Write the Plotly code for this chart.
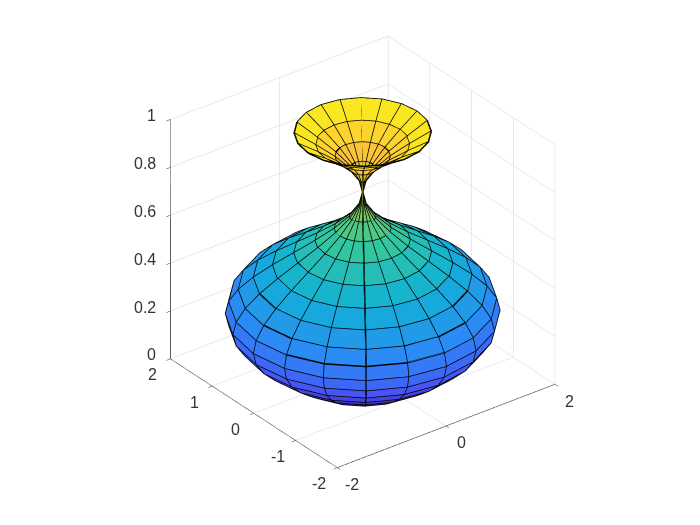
import numpy as np
import plotly.graph_objects as go

# profile of the surface, one radius for each ring
heights = [0.0, 0.05, 0.1, 0.15, 0.2, 0.25, 0.3, 0.35, 0.4, 0.45, 0.5,
           0.55, 0.6, 0.65, 0.7, 0.75, 0.8, 0.85, 0.9, 0.95, 1.0]
radii = [1.0, 1.31, 1.59, 1.81, 1.95, 2.0, 1.95, 1.81, 1.59, 1.31, 1.0,
         0.69, 0.41, 0.19, 0.05, 0.0, 0.05, 0.19, 0.41, 0.69, 1.0]
angles_deg = [0, 18, 36, 54, 72, 90, 108, 126, 144, 162, 180,
              198, 216, 234, 252, 270, 288, 306, 324, 342, 360]

x_ticks = [-2, 0, 2]
y_ticks = [-2, -1, 0, 1, 2]
z_ticks = [0, 0.2, 0.4, 0.6, 0.8, 1]

PARULA = np.array([
    [0.2422, 0.1504, 0.6603],
    [0.2810, 0.3228, 0.9579],
    [0.1786, 0.5289, 0.9682],
    [0.0689, 0.6948, 0.8394],
    [0.2161, 0.7843, 0.5923],
    [0.6720, 0.7793, 0.2227],
    [0.9970, 0.7659, 0.2199],
    [0.9769, 0.9839, 0.0805],
])
PARULA_POS = np.linspace(0, 1, len(PARULA))


def parula(v):
    rgb = [np.interp(v, PARULA_POS, PARULA[:, i]) for i in range(3)]
    return "rgb({:.0f},{:.0f},{:.0f})".format(*[c * 255 for c in rgb])


theta = np.radians(angles_deg)
r = np.array(radii)
z = np.array(heights)
X = np.outer(r, np.cos(theta))
Y = np.outer(r, np.sin(theta))
Z = np.outer(z, np.ones_like(theta))

nrow, ncol = X.shape
idx = np.arange(nrow * ncol).reshape(nrow, ncol)
i, j, k, colors = [], [], [], []
for a in range(nrow - 1):
    for b in range(ncol - 1):
        c = parula(heights[a])
        i += [idx[a, b], idx[a, b]]
        j += [idx[a, b + 1], idx[a + 1, b + 1]]
        k += [idx[a + 1, b + 1], idx[a + 1, b]]
        colors += [c, c]

fig = go.Figure()
fig.add_trace(
    go.Mesh3d(
        x=X.ravel(),
        y=Y.ravel(),
        z=Z.ravel(),
        i=i,
        j=j,
        k=k,
        facecolor=colors,
        flatshading=True,
        lighting={"ambient": 1, "diffuse": 0, "specular": 0, "roughness": 1, "fresnel": 0},
        hoverinfo="skip",
    )
)

# edge lines, rings then meridians
ex, ey, ez = [], [], []
for a in range(nrow):
    ex += list(X[a]) + [None]
    ey += list(Y[a]) + [None]
    ez += list(Z[a]) + [None]
for b in range(ncol - 1):
    ex += list(X[:, b]) + [None]
    ey += list(Y[:, b]) + [None]
    ez += list(Z[:, b]) + [None]
fig.add_trace(
    go.Scatter3d(
        x=ex,
        y=ey,
        z=ez,
        mode="lines",
        line={"color": "#000000", "width": 3},
        hoverinfo="skip",
        showlegend=False,
    )
)


def axis(ticks, rng):
    return {
        "range": rng,
        "tickvals": ticks,
        "showticklabels": False,
        "title": {"text": ""},
        "showbackground": False,
        "showgrid": True,
        "gridcolor": "#d4d4d4",
        "gridwidth": 1,
        "zeroline": False,
        "showline": True,
        "linecolor": "#262626",
        "linewidth": 1.5,
        "ticks": "outside",
        "ticklen": 5,
        "tickcolor": "#262626",
        "showspikes": False,
    }


def tick_label(x, y, z, text, dx, dy, anchor="center"):
    return {
        "x": x,
        "y": y,
        "z": z,
        "text": text,
        "showarrow": False,
        "xanchor": anchor,
        "xshift": dx,
        "yshift": dy,
        "font": {"family": "Liberation Sans", "size": 16, "color": "#333333"},
    }


# the native 3d labels of z=0 and y=2 collide, so labels sit at the ticks by hand
labels = [tick_label(t, -2, 0, str(t), 15, -17) for t in x_ticks]
labels += [tick_label(-2, t, 0, str(t), -18, -16) for t in y_ticks]
labels += [tick_label(-2, 2, t, str(t), -12, 4, "right") for t in z_ticks]

# camera shift moves the whole box on the page
shift_x, shift_y, shift_z = -0.014, 0.011, -0.082

fig.update_layout(
    width=700,
    height=525,
    margin={"l": 0, "r": 0, "t": 0, "b": 0},
    paper_bgcolor="#ffffff",
    showlegend=False,
    scene={
        "domain": {"x": [0, 1], "y": [0, 1]},
        "aspectmode": "manual",
        "aspectratio": {"x": 1.045, "y": 1.045, "z": 1.053},
        "xaxis": axis(x_ticks, [-2, 2]),
        "yaxis": axis(y_ticks, [-2, 2]),
        "zaxis": axis(z_ticks, [0, 1]),
        "annotations": labels,
        "camera": {
            "projection": {"type": "orthographic"},
            "eye": {
                "x": -1.05 + shift_x,
                "y": -1.37 + shift_y,
                "z": 0.996 + shift_z,
            },
            "up": {"x": 0, "y": 0, "z": 1},
            "center": {"x": shift_x, "y": shift_y, "z": shift_z},
        },
    },
)

fig.write_html("out.html")
